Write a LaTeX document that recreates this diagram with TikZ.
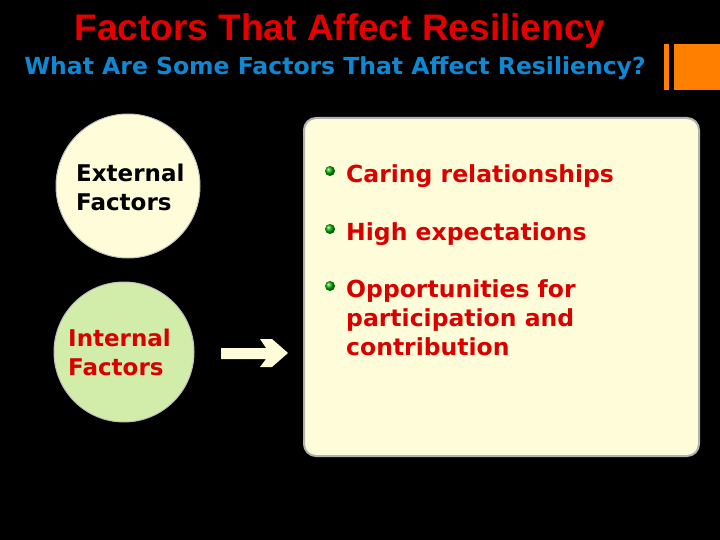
\documentclass[tikz,border=0pt]{standalone}
\usepackage{fontspec}
\setmainfont{DejaVu Sans}
\newfontfamily\titlefont{Liberation Sans}
\begin{document}
\begin{tikzpicture}[x=1pt,y=-1pt,
  circ/.style={circle,draw=gray!50,line width=1pt,minimum size=#1},
  lbl/.style={font=\bfseries\fontsize{23}{29}\selectfont,align=left,anchor=west,inner sep=0pt},
  item/.style={font=\bfseries\fontsize{23.5}{29}\selectfont,text=red!85!black,align=left,anchor=north west,inner sep=0pt},
  bul/.style={circle,ball color=green!70!black,inner sep=0pt,minimum size=10pt}]
\useasboundingbox (0,0) rectangle (720,540);
\fill[black] (0,0) rectangle (720,540);
\node[font=\titlefont\bfseries\fontsize{37}{40}\selectfont,text=red!90!black] (title) at (340,31) {Factors That Affect Resiliency};
\node[font=\bfseries\fontsize{23.5}{26}\selectfont,text=cyan!70!blue] (sub) at (335,68) {What Are Some Factors That Affect Resiliency?};
\fill[orange] (664,44) rectangle (669,90);
\fill[orange] (674,44) rectangle (720,90);
\node[circ=144pt,fill=yellow!15] (ext) at (128,186) {};
\node[lbl] at (76,187) {External\\Factors};
\node[circ=140pt,fill=yellow!50!green!35] (int) at (124,352) {};
\node[lbl,text=red!85!black] at (68,352) {Internal\\Factors};
\draw[gray!60,line width=2pt,fill=yellow!15,rounded corners=12pt] (304,118) rectangle (699,456);
\node[bul] (b1) at (330,171) {};
\node[bul] (b2) at (330,229) {};
\node[bul] (b3) at (330,286) {};
\node[item] (t1) at (346,164) {Caring relationships};
\node[item] (t2) at (346,222) {High expectations};
\node[item] (t3) at (346,279) {Opportunities for\\participation and\\contribution};
\fill[yellow!15] (221,348) -- (266,348) -- (260,339) -- (272,339) -- (288,353) -- (272,367) -- (260,367) -- (266,359) -- (221,359) -- cycle;
\end{tikzpicture}
\end{document}
